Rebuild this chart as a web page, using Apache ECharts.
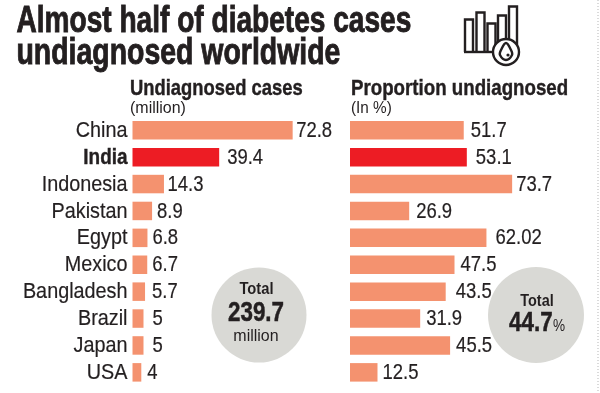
<!DOCTYPE html>
<html><head><meta charset="utf-8">
<style>html,body{margin:0;background:#fff}#c{width:600px;height:393px}</style>
<script src="https://cdn.jsdelivr.net/npm/echarts@6/dist/echarts.min.js"></script>
</head><body><div id="c"></div>
<script>
const countries = ['China','India','Indonesia','Pakistan','Egypt','Mexico','Bangladesh','Brazil','Japan','USA'];
const undiagnosedCases = [72.8,39.4,14.3,8.9,6.8,6.7,5.7,5,5,4];
const proportionUndiagnosed = [51.7,53.1,73.7,26.9,62.02,47.5,43.5,31.9,45.5,12.5];
const caseLabelGaps = [3.5,8,3.5,5,5,5,7,9,9,6];
const propLabelGaps = [7,9,4,7,9,6,10,6,6,5];
const highlight = 'India';
const FONT = '"Liberation Sans",sans-serif';
const INK = '#231f20', BAR = '#f4926f', RED = '#ed1c24', DISC = '#d9d9d5';

function barSeries(values, idx){
  return {type:'bar', xAxisIndex:idx, yAxisIndex:idx, barWidth:18.5, silent:true,
    data: values.map((v,i)=>({value:v, itemStyle:{color:countries[i]===highlight?RED:BAR}}))};
}
// Condensed text labels positioned through the axes' scales
function valueLabels(values, gaps, idx){
  return {type:'custom', xAxisIndex:idx, yAxisIndex:idx, silent:true, z:6, clip:false,
    encode:{x:0,y:1},
    data: values.map((v,i)=>[v,i]),
    renderItem(p,api){
      const i=p.dataIndex, c=api.coord([api.value(0),api.value(1)]);
      return {type:'text', x:c[0]+gaps[i], y:c[1]+0.5, scaleX:0.84,
        style:{text:String(values[i]), fill:INK, fontFamily:FONT, fontSize:22, textAlign:'left', textVerticalAlign:'middle', verticalAlign:'middle', stroke:INK, lineWidth:0.2}};
    }};
}
const nameLabels = {type:'custom', xAxisIndex:0, yAxisIndex:0, silent:true, z:6, clip:false,
  encode:{x:0,y:1},
  data: countries.map((n,i)=>[0,i]),
  renderItem(p,api){
    const i=p.dataIndex, c=api.coord([api.value(0),api.value(1)]), hot=countries[i]===highlight;
    return {type:'text', x:c[0]-5, y:c[1]+0.5, scaleX:hot?0.86:0.9,
      style:{text:countries[i], fill:INK, fontFamily:FONT, fontSize:22, fontWeight:hot?'bold':'normal',
        textAlign:'right', textVerticalAlign:'middle', verticalAlign:'middle', stroke:INK, lineWidth:hot?0.4:0.2}};
  }};

function txt(text,x,y,size,sx,o){
  o=o||{};
  return {type:'text', x, y, scaleX:sx, z:10, silent:true,
    style:{text, fill:INK, fontFamily:FONT, fontSize:size,
      fontWeight:o.bold?'bold':'normal', textAlign:o.align||'left', textVerticalAlign:'middle', verticalAlign:'middle',
      stroke:o.stroke?INK:null, lineWidth:o.stroke||0}};
}
const iconLine={stroke:INK,lineWidth:2.4,fill:'#fff'};
function iconBar(x,w,top){return {type:'polyline',silent:true,z:10,shape:{points:[[x,52],[x,top],[x+w,top],[x+w,52]]},style:{stroke:INK,lineWidth:2.4,fill:'none'}};}

const chart = echarts.init(document.getElementById('c'),null,{renderer:'canvas'});
chart.setOption({
  animation:false, backgroundColor:'#fff',
  grid:[{left:132.5,top:116.8,width:220,height:269},{left:350,top:116.8,width:220,height:269}],
  xAxis:[0,1].map(i=>({type:'value',gridIndex:i,min:0,max:100,show:false})),
  yAxis:[0,1].map(i=>({type:'category',gridIndex:i,inverse:true,data:countries,show:false})),
  series:[barSeries(undiagnosedCases,0),barSeries(proportionUndiagnosed,1),
    valueLabels(undiagnosedCases,caseLabelGaps,0),valueLabels(proportionUndiagnosed,propLabelGaps,1),nameLabels],
  graphic:[
    txt('Almost half of diabetes cases',16.5,22,36,0.78,{bold:true,stroke:0.9}),
    txt('undiagnosed worldwide',16.5,54,36,0.79,{bold:true,stroke:0.9}),
    txt('Undiagnosed cases',130,89,21.5,0.855,{bold:true,stroke:0.4}),
    txt('(million)',130,108,17,0.94),
    txt('Proportion undiagnosed',351,89,21.5,0.87,{bold:true,stroke:0.4}),
    txt('(In %)',351,108,17,0.9),
    {type:'circle',z:5,silent:true,shape:{cx:259,cy:315,r:47.5},style:{fill:DISC}},
    {type:'circle',z:5,silent:true,shape:{cx:536,cy:315,r:48},style:{fill:DISC}},
    txt('Total',256.5,290,16,0.92,{bold:true,align:'center'}),
    txt('239.7',256,313,28,0.8,{bold:true,align:'center',stroke:0.5}),
    txt('million',256,336,17,0.94,{align:'center'}),
    txt('Total',537,301.5,17,0.85,{bold:true,align:'center'}),
    txt('44.7',509,323,28,0.8,{bold:true,stroke:0.5}),
    txt('%',553,327,16,0.85),
    iconBar(465,8,19.5),iconBar(476.5,8,12.5),iconBar(487.5,8,23.5),iconBar(498,8,15.5),iconBar(509,8,6.5),
    {type:'line',silent:true,z:10,shape:{x1:464,y1:52,x2:495,y2:52},style:{stroke:INK,lineWidth:2.4}},
    {type:'circle',silent:true,z:11,shape:{cx:506,cy:52,r:13},style:iconLine},
    {type:'polygon',silent:true,z:12,shape:{points:[[506,43],[511,50],[512,55],[506,60],[500,55],[501,50]],smooth:0.4},style:iconLine},
    {type:'circle',silent:true,z:13,shape:{cx:508,cy:55,r:1.6},style:{fill:INK}},
    {type:'line',silent:true,z:10,shape:{x1:598,y1:0,x2:598,y2:393},style:{stroke:'#b5b5b5',lineWidth:1,lineDash:[1,2]}}
  ]
});
</script></body></html>
